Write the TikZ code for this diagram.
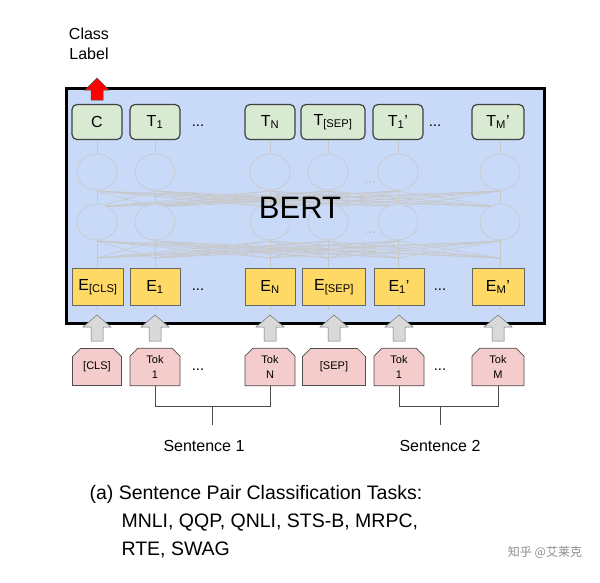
\documentclass[tikz,border=0pt]{standalone}
\usepackage{fontspec}
\setmainfont{Liberation Sans}
\newfontfamily\cjk{Noto Sans CJK SC}
\usetikzlibrary{shapes.misc}
\begin{document}
\begin{tikzpicture}[x=1pt,y=-1pt,
 tbox/.style={draw=black!75,fill={rgb,255:red,217;green,234;blue,211},rounded corners=5pt,minimum height=35pt,line width=1.2pt,font=\fontsize{16}{16}\selectfont},
 ebox/.style={draw=black!60,fill={rgb,255:red,255;green,217;blue,102},minimum height=37pt,line width=0.7pt,font=\fontsize{16}{16}\selectfont},
 kbox/.style={draw=black!70,fill={rgb,255:red,244;green,204;blue,204},minimum height=37pt,line width=0.7pt,font=\fontsize{11}{15}\selectfont,align=center,
   chamfered rectangle,chamfered rectangle corners={north west,north east},chamfered rectangle xsep=4pt, chamfered rectangle ysep=4pt},
 faint/.style={draw=black!22,line width=0.6pt},
 garrow/.style={draw=black!55,fill=black!15,line width=0.5pt},
 dots/.style={font=\fontsize{15}{15}\selectfont}
]
\useasboundingbox (0,0) rectangle (600,582);
\draw[line width=3pt,fill={rgb,255:red,201;green,218;blue,248}] (66,88) rectangle (544,323);
\foreach \x in {97,155,270,328,398,500}{
  \draw[faint] (\x,140) -- (\x,310);
}
\foreach \x in {97,155,270,328,398,500}{
  \foreach \y in {97,155,270,328,398,500}{
    \draw[faint] (\x,258) -- (\y,241);
    \draw[faint] (\x,207) -- (\y,191);
  }
}
\foreach \x in {97,155,270,328,398,500}{
  \draw[faint,fill={rgb,255:red,201;green,218;blue,248}] (\x,172) ellipse (20pt and 18pt);
  \draw[faint,fill={rgb,255:red,201;green,218;blue,248}] (\x,222) ellipse (20pt and 18pt);
}
\node[text=black!25,dots] at (370,183) {...};
\node[text=black!25,dots] at (370,233) {...};
\node (bert) at (300,208) {\fontsize{31}{31}\selectfont BERT};
\node[tbox,minimum width=50pt] (c) at (97,122) {C};
\node[tbox,minimum width=50pt] (t1) at (155,122) {T\textsubscript{1}};
\node[tbox,minimum width=50pt] (tn) at (270,122) {T\textsubscript{N}};
\node[tbox,minimum width=64pt] (tsep) at (333,122) {T\textsubscript{[SEP]}};
\node[tbox,minimum width=50pt] (t1p) at (398,122) {T\textsubscript{1}'};
\node[tbox,minimum width=52pt] (tmp) at (498,122) {T\textsubscript{M}'};
\node[dots] (d1) at (198,126) {...};
\node[dots] (d2) at (435,126) {...};
\node[ebox,minimum width=51pt] (ecls) at (98,287) {E\textsubscript{[CLS]}};
\node[ebox,minimum width=50pt] (e1) at (155,287) {E\textsubscript{1}};
\node[ebox,minimum width=50pt] (en) at (270,287) {E\textsubscript{N}};
\node[ebox,minimum width=63pt] (esep) at (334,287) {E\textsubscript{[SEP]}};
\node[ebox,minimum width=50pt] (e1p) at (399,287) {E\textsubscript{1}'};
\node[ebox,minimum width=52pt] (emp) at (498,287) {E\textsubscript{M}'};
\node[dots] at (198,290) {...};
\node[dots] at (440,290) {...};
\node[kbox,minimum width=49pt] (kcls) at (97,367) {[CLS]};
\node[kbox,minimum width=50pt] (k1) at (155,367) {Tok\\1};
\node[kbox,minimum width=50pt] (kn) at (270,367) {Tok\\N};
\node[kbox,minimum width=63pt] (ksep) at (334,367) {[SEP]};
\node[kbox,minimum width=50pt] (k1p) at (399,367) {Tok\\1};
\node[kbox,minimum width=52pt] (kmp) at (498,367) {Tok\\M};
\node[dots] at (198,370) {...};
\node[dots] at (440,370) {...};
\foreach \x in {97,155,270,334,399,498}{
  \draw[garrow] (\x-6,341) -- (\x-6,327) -- (\x-14,327) -- (\x,315) -- (\x+14,327) -- (\x+6,327) -- (\x+6,341) -- cycle;
}
\draw[draw=black!70,fill=red,line width=0.5pt] (91,100) -- (91,90) -- (85,90) -- (97,78) -- (109,90) -- (103,90) -- (103,100) -- cycle;
\node[align=center,font=\fontsize{16}{20}\selectfont] (cl) at (89,44) {Class\\Label};
\coordinate (m1) at (212,406); \coordinate (m2) at (440,406);
\draw[black!70,line width=0.8pt] (k1.south) -- (k1.south |- m1) -- (kn.south |- m1) -- (kn.south);
\draw[black!70,line width=0.8pt] (m1) -- ++(0,19);
\draw[black!70,line width=0.8pt] (k1p.south) -- (k1p.south |- m2) -- (kmp.south |- m2) -- (kmp.south);
\draw[black!70,line width=0.8pt] (m2) -- ++(0,19);
\node[font=\fontsize{16}{16}\selectfont] (s1) at (204,446) {Sentence 1};
\node[font=\fontsize{16}{16}\selectfont] (s2) at (440,446) {Sentence 2};
\node[anchor=north west,align=left,font=\fontsize{19.5}{28}\selectfont] (cap) at (86,482)
 {(a) Sentence Pair Classification Tasks:\\\hspace*{32pt}MNLI, QQP, QNLI, STS-B, MRPC,\\\hspace*{32pt}RTE, SWAG};
\node[text=black!45,font=\cjk\fontsize{12}{12}\selectfont] (wm) at (545,552) {知乎 @艾莱克};
\end{tikzpicture}
\end{document}
